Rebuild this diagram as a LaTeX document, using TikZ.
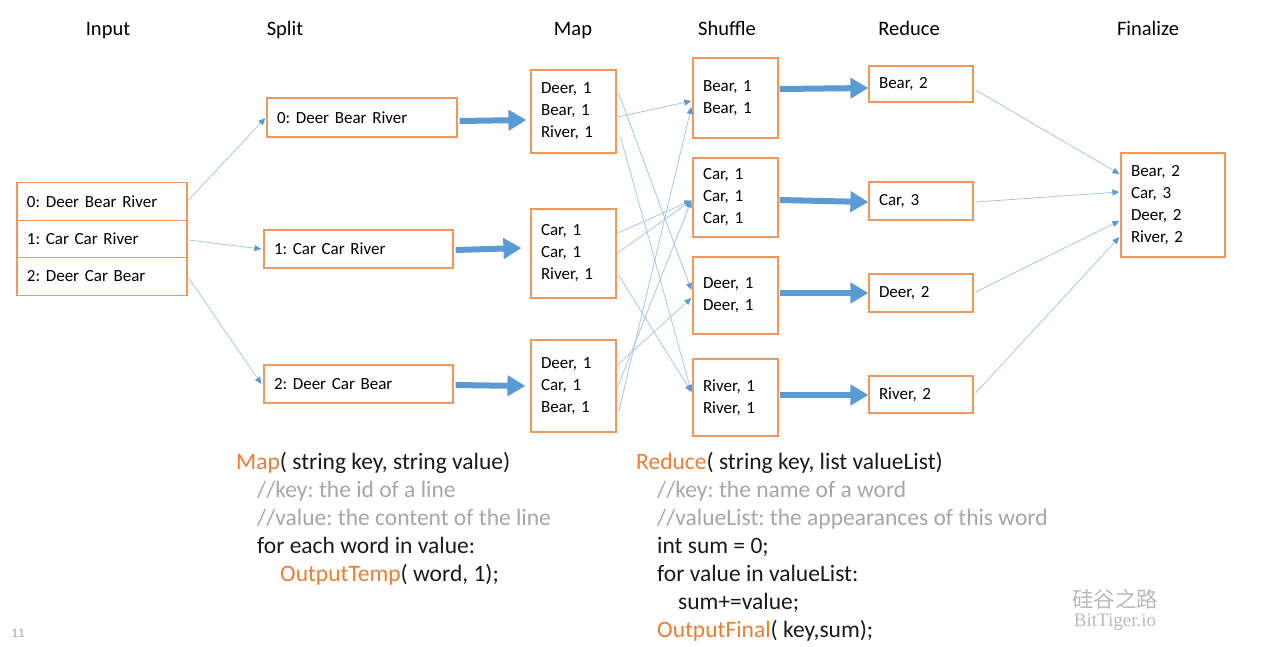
\documentclass[tikz,border=0pt]{standalone}
\usepackage{fontspec}
\setmainfont{Carlito}
\newfontfamily\cjkfont{Noto Sans CJK SC}
\newfontfamily\markfont{Liberation Serif}
\usetikzlibrary{calc,arrows.meta}
\frenchspacing
\definecolor{boxorange}{RGB}{240,152,92}
\definecolor{codeorange}{RGB}{237,125,49}
\definecolor{arrowblue}{RGB}{91,155,213}
\definecolor{lineblue}{RGB}{165,198,232}
\definecolor{commentgray}{RGB}{166,166,166}
\definecolor{codeblack}{RGB}{26,26,26}
\tikzset{
  box/.style={draw=boxorange,line width=1.2pt,inner xsep=10pt,inner ysep=0pt,
    align=left,font=\fontsize{17}{22}\selectfont},
  thinarrow/.style={draw=lineblue,line width=0.8pt,
    -{Triangle[length=7pt,width=6pt,color=arrowblue]}},
  fatarrow/.style={draw=arrowblue,line width=6pt,-{Triangle[length=18pt,width=20pt]}},
  title/.style={anchor=base,font=\fontsize{20.5}{24}\selectfont},
  code/.style={inner sep=0pt,align=left,text=codeblack,font=\fontsize{23.5}{28}\selectfont},
}

\begin{document}
\begin{tikzpicture}[x=1pt,y=-1pt]
    \useasboundingbox (0,0) rectangle (1261,646);
    % titles
    \node[title] (tin) at (108,35) {Input};
    \node[title] (tsplit) at (285,35) {Split};
    \node[title] (tmap) at (573,35) {Map};
    \node[title] (tshuf) at (727,35) {Shuffle};
    \node[title] (tred) at (909,35) {Reduce};
    \node[title] (tfin) at (1148,35) {Finalize};
    % input
    \node[box,text width=150pt,minimum height=37.5pt] (in0) at (102,201.5) {0: Deer Bear River};
    \node[box,text width=150pt,minimum height=37.5pt] (in1) at (102,239) {1: Car Car River};
    \node[box,text width=150pt,minimum height=37.5pt] (in2) at (102,276.5) {2: Deer Car Bear};
    % split
    \node[box,text width=170pt,minimum height=39pt] (sp0) at (362,117.5) {0: Deer Bear River};
    \node[box,text width=169pt,minimum height=38pt] (sp1) at (358.5,249) {1: Car Car River};
    \node[box,text width=169pt,minimum height=38pt] (sp2) at (358.5,384) {2: Deer Car Bear};
    % map
    \node[box,text width=65pt,minimum height=83pt] (m1) at (573.5,111.5) {Deer, 1\\Bear, 1\\River, 1};
    \node[box,text width=65pt,minimum height=89pt] (m2) at (573.5,253.5) {Car, 1\\Car, 1\\River, 1};
    \node[box,text width=65pt,minimum height=92pt] (m3) at (573.5,386) {Deer, 1\\Car, 1\\Bear, 1};
    % shuffle
    \node[box,text width=65pt,minimum height=80pt] (s1) at (735.5,98) {Bear, 1\\Bear, 1};
    \node[box,text width=65pt,minimum height=79pt] (s2) at (735.5,197.5) {Car, 1\\Car, 1\\Car, 1};
    \node[box,text width=65pt,minimum height=77pt] (s3) at (735.5,295.5) {Deer, 1\\Deer, 1};
    \node[box,text width=65pt,minimum height=77pt] (s4) at (735.5,397.5) {River, 1\\River, 1};
    % reduce
    \node[box,text width=84pt,minimum height=36pt] (r1) at (921,84) {Bear, 2};
    \node[box,text width=84pt,minimum height=38pt] (r2) at (921,201) {Car, 3};
    \node[box,text width=84pt,minimum height=38pt] (r3) at (921,293) {Deer, 2};
    \node[box,text width=84pt,minimum height=37pt] (r4) at (921,394.5) {River, 2};
    % finalize
    \node[box,text width=84pt,minimum height=104pt] (fin) at (1173,205) {Bear, 2\\Car, 3\\Deer, 2\\River, 2};

    % input -> split
    \draw[thinarrow] ($(in0.east)+(1,-1.5)$) -- ($(sp0.west)+(-1,0.5)$);
    \draw[thinarrow] ($(in1.east)+(1,1)$) -- ($(sp1.west)+(-2,0)$);
    \draw[thinarrow] ($(in2.east)+(1,1.5)$) -- ($(sp2.west)+(-2,0)$);
    % split -> map
    \draw[fatarrow] ($(sp0.east)+(2,3.5)$) -- ($(m1.west)+(-4,8.5)$);
    \draw[fatarrow] ($(sp1.east)+(2,1)$) -- ($(m2.west)+(-9,-5.5)$);
    \draw[fatarrow] ($(sp2.east)+(2,1)$) -- ($(m3.west)+(-5,0)$);
    % map -> shuffle
    \draw[thinarrow] ($(m1.east)+(2,-18.5)$) -- ($(s3.west)+(-1,-5.5)$);
    \draw[thinarrow] ($(m1.east)+(1,5.5)$) -- ($(s1.west)+(-1,3)$);
    \draw[thinarrow] ($(m1.east)+(4,25.5)$) -- ($(s4.west)+(-1,-5.5)$);
    \draw[thinarrow] ($(m2.east)+(1,-20.5)$) -- ($(s2.west)+(-1,3)$);
    \draw[thinarrow] ($(m2.east)+(1,-0.5)$) -- ($(s2.west)+(-1,3)$);
    \draw[thinarrow] ($(m2.east)+(2,21.5)$) -- ($(s4.west)+(-1,-5.5)$);
    \draw[thinarrow] ($(m3.east)+(1,-21)$) -- ($(s3.west)+(-1,2.5)$);
    \draw[thinarrow] ($(m3.east)+(1,1)$) -- ($(s2.west)+(-1,3)$);
    \draw[thinarrow] ($(m3.east)+(2,26)$) -- ($(s1.west)+(-1,9)$);
    % shuffle -> reduce
    \draw[fatarrow] ($(s1.east)+(1,-9)$) -- ($(r1.west)+(0,4)$);
    \draw[fatarrow] ($(s2.east)+(1,2.5)$) -- ($(r2.west)+(0,1)$);
    \draw[fatarrow] ($(s3.east)+(1,-2.5)$) -- ($(r3.west)+(0,0)$);
    \draw[fatarrow] ($(s4.east)+(1,-2.5)$) -- ($(r4.west)+(0,0.5)$);
    % reduce -> finalize
    \draw[thinarrow] ($(r1.east)+(2,6)$) -- ($(fin.west)+(-1,-31)$);
    \draw[thinarrow] ($(r2.east)+(2,1)$) -- ($(fin.west)+(-1,-13)$);
    \draw[thinarrow] ($(r3.east)+(2,-1)$) -- ($(fin.west)+(-1,16)$);
    \draw[thinarrow] ($(r4.east)+(2,-1.5)$) -- ($(fin.west)+(-1,32)$);

    % pseudo code
    \node[code,anchor=north west] (mapcode) at (236,449.5) {\strut\textcolor{codeorange}{Map}( string key, string value)\\
      \hspace*{21pt}\textcolor{commentgray}{//key: the id of a line}\\
      \hspace*{21pt}\textcolor{commentgray}{//value: the content of the line}\\
      \hspace*{21pt}for each word in value:\\
      \hspace*{44pt}\textcolor{codeorange}{OutputTemp}( word, 1);};
    \node[code,anchor=north west] (redcode) at (636,449.5) {\strut\textcolor{codeorange}{Reduce}( string key, list valueList)\\
      \hspace*{21pt}\textcolor{commentgray}{//key: the name of a word}\\
      \hspace*{21pt}\textcolor{commentgray}{//valueList: the appearances of this word}\\
      \hspace*{21pt}int sum = 0;\\
      \hspace*{21pt}for value in valueList:\\
      \hspace*{42pt}sum+=value;\\
      \hspace*{21pt}\textcolor{codeorange}{OutputFinal}( key,sum);};

    % page number and watermark
    \node[text=gray!70,font=\fontsize{13}{15}\selectfont] (pagenum) at (18,633) {11};
    \node[text=gray!55,font=\cjkfont\fontsize{21.5}{24}\selectfont] (wmcn) at (1115,599) {硅谷之路};
    \node[text=gray!55,font=\markfont\fontsize{19}{22}\selectfont] (wmen) at (1115,622) {BitTiger.io};
\end{tikzpicture}
\end{document}
